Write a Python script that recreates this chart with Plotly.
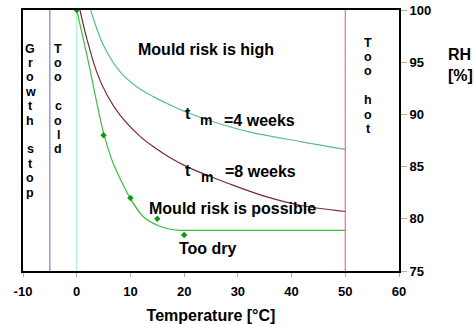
import plotly.graph_objects as go

# ---- data ----
teal_T = [2.6, 4.95, 8.06, 11.17, 14.26, 17.4, 20.5, 25.4, 32.3, 41.6, 50]
teal_RH = [100, 96.65, 94.1, 92.65, 91.7, 90.9, 90.2, 89.3, 88.3, 87.4, 86.65]

brown_T = [0.6, 1.86, 3.7, 5.6, 8.1, 11.8, 14.3, 17.4, 20.5, 24.2, 29.2, 35.4, 41.6, 50]
brown_RH = [100, 97.3, 94.1, 91.9, 89.9, 87.9, 86.9, 85.85, 85.0, 84.2, 83.2, 82.1, 81.3, 80.7]

green_T = [0, 1.9, 3.7, 5.0, 6.8, 9.9, 12.4, 14.9, 17.0, 19.2, 25, 35, 50]
green_RH = [100, 95.7, 91.2, 88.2, 85.3, 82.0, 80.2, 79.4, 79.05, 78.9, 78.9, 78.9, 78.9]

marker_T = [0, 5, 10, 15, 20]
marker_RH = [100, 88.0, 82.0, 80.0, 78.45]

x_ticks = [-10, 0, 10, 20, 30, 40, 50, 60]
y_ticks = [75, 80, 85, 90, 95, 100]
limits_T = {"growth": -5, "cold": 0, "hot": 50}

W, H = 474, 324
L, R, T, B = 23, 75, 10, 53
XMIN, XMAX, YMIN, YMAX = -10, 60, 75, 100
PW, PH = W - L - R, H - T - B


def dx(px):
    return XMIN + (px - L) / PW * (XMAX - XMIN)


def dy(py):
    return YMAX - (py - T) / PH * (YMAX - YMIN)


FONT = "Liberation Sans, Arial, sans-serif"

fig = go.Figure()

# vertical limit lines
for key, col in [("growth", "#7080d0"), ("cold", "#a8f0d8"), ("hot", "#f07080")]:
    fig.add_trace(go.Scatter(x=[limits_T[key], limits_T[key]], y=[YMIN, YMAX],
                             mode="lines", line=dict(color=col, width=1.2),
                             showlegend=False, hoverinfo="skip"))

fig.add_trace(go.Scatter(x=teal_T, y=teal_RH, mode="lines",
                         line=dict(color="#5cb8a8", width=1.2, shape="spline", smoothing=1.0),
                         showlegend=False))
fig.add_trace(go.Scatter(x=brown_T, y=brown_RH, mode="lines",
                         line=dict(color="#7a2838", width=1.2, shape="spline", smoothing=1.0),
                         showlegend=False))
fig.add_trace(go.Scatter(x=green_T, y=green_RH, mode="lines",
                         line=dict(color="#3cbf3c", width=1.2, shape="spline", smoothing=0.6),
                         showlegend=False))
fig.add_trace(go.Scatter(x=marker_T, y=marker_RH, mode="markers",
                         marker=dict(color="#109a10", size=5, symbol="diamond"),
                         showlegend=False))

ann = []


def text(px, py, s, size=16, xanchor="center", height=None):
    a = dict(x=dx(px), y=dy(py), xref="x", yref="y", text=s, showarrow=False,
             xanchor=xanchor, yanchor="middle", borderpad=0,
             font=dict(family=FONT, size=size, color="black", weight="bold"))
    if height:
        a["height"] = height
    ann.append(a)


def vertical(px, py0, word, step=14.4):
    for i, ch in enumerate(word):
        if ch != " ":
            text(px, py0 + i * step, ch, size=12.5, height=13)


vertical(30, 48, "Growth stop")
vertical(58, 48, "Too cold")
vertical(368, 42, "Too hot")

text(206, 49, "Mould risk is high")
text(188, 113, "t", 16)
text(206, 120, "m", 14)
text(223, 120, "=4 weeks", 16, "left")
text(188, 170, "t", 16)
text(207, 177, "m", 14)
text(224, 171, "=8 weeks", 16, "left")
text(232, 208, "Mould risk is possible")
text(208, 248, "Too dry")

ann.append(dict(xref="paper", yref="paper", x=(446 - L) / PW, y=(H - B - 65) / PH,
                text="RH<br>[%]", showarrow=False, xanchor="left", yanchor="middle", align="left",
                font=dict(family=FONT, size=16, color="black", weight="bold")))

fig.update_layout(
    width=W, height=H,
    margin=dict(l=L, r=R, t=T, b=B),
    paper_bgcolor="white", plot_bgcolor="white",
    annotations=ann,
    xaxis=dict(range=[XMIN, XMAX], tickvals=x_ticks, ticktext=[str(v) for v in x_ticks],
               showgrid=False, zeroline=False, showline=True, linecolor="black", linewidth=2,
               mirror=True, ticks="outside", ticklen=4, tickcolor="#b0b0b0",
               ticklabelstandoff=3, automargin=False,
               tickfont=dict(family=FONT, size=13, color="black", weight="bold"),
               title=dict(text="Temperature [°C]", standoff=12,
                          font=dict(family=FONT, size=16, color="black", weight="bold"))),
    yaxis=dict(range=[YMIN, YMAX], tickvals=y_ticks, side="right", automargin=False,
               showgrid=False, zeroline=False, showline=True, linecolor="black", linewidth=2,
               mirror=True, ticks="outside", ticklen=6, tickcolor="#b0b0b0",
               tickfont=dict(family=FONT, size=13, color="black", weight="bold")),
)

fig.write_html("out.html")
